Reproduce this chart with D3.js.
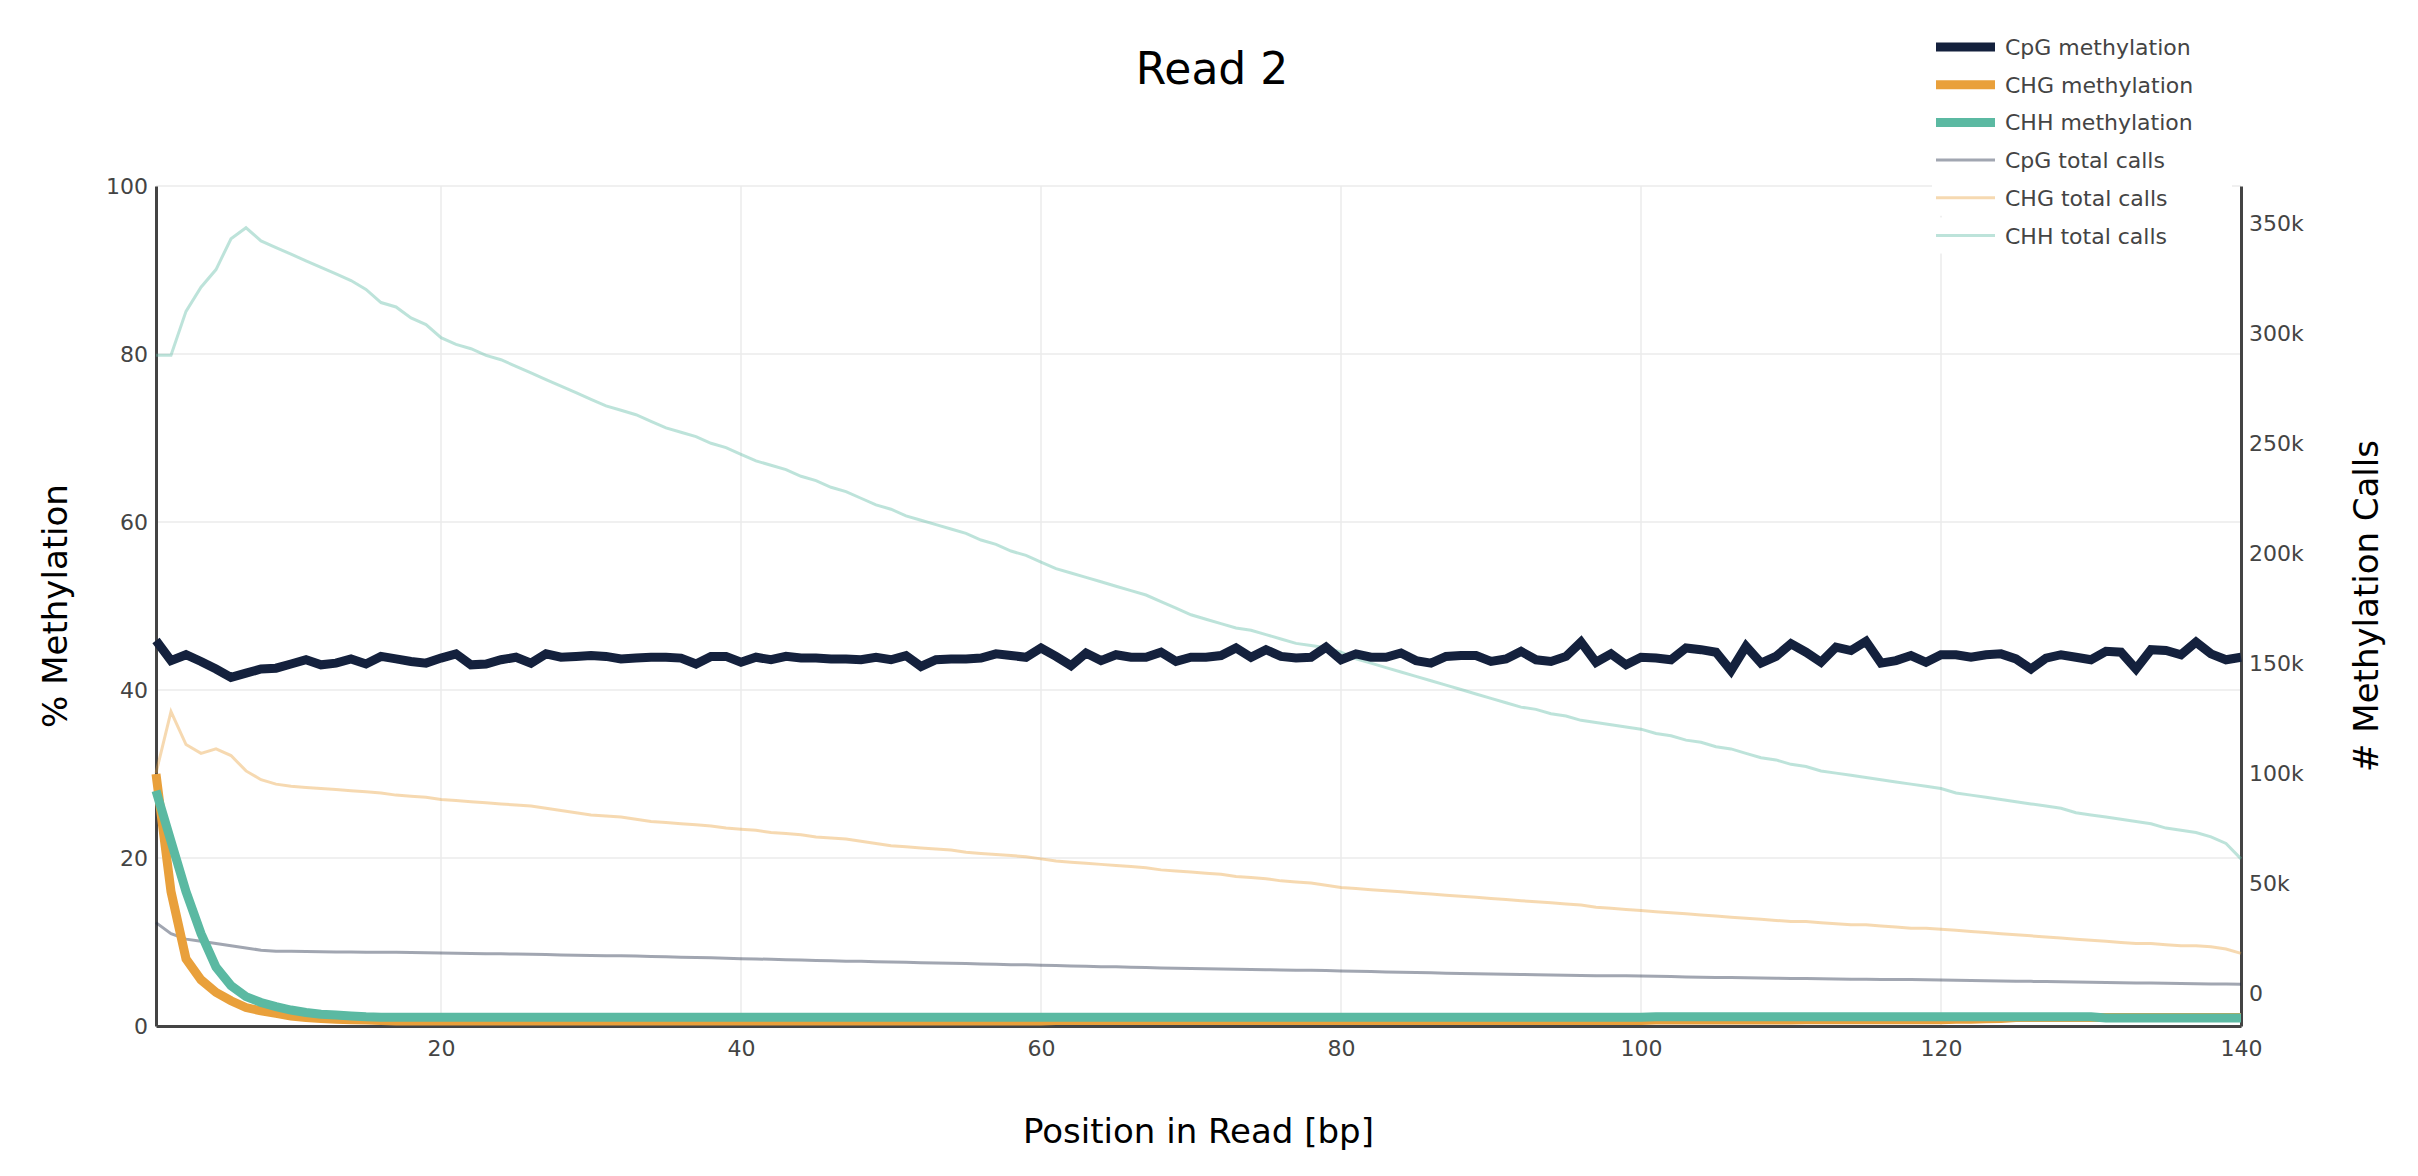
<!DOCTYPE html>
<html>
<head>
<meta charset="utf-8">
<script src="https://cdn.jsdelivr.net/npm/d3@7"></script>
<style>
body { margin: 0; background: #fff; font-family: "DejaVu Sans", sans-serif; }
</style>
</head>
<body>
<svg id="chart" width="2418" height="1176"></svg>
<script>
// positions 1..140 in the read
var positions = d3.range(1, 141);

var cpgMeth = [45.9,43.5,44.2,43.4,42.5,41.5,42,42.5,42.6,43.1,
  43.6,43.0,43.2,43.7,43.1,44.0,43.7,43.4,43.2,43.8,
  44.3,43.0,43.1,43.6,43.9,43.2,44.3,43.9,44.0,44.1,
  44.0,43.7,43.8,43.9,43.9,43.8,43.1,44.0,44.0,43.3,
  43.9,43.6,44.0,43.8,43.8,43.7,43.7,43.6,43.9,43.6,
  44.1,42.8,43.6,43.7,43.7,43.8,44.3,44.1,43.9,45.0,
  44.0,42.9,44.4,43.5,44.2,43.9,43.9,44.5,43.4,43.9,
  43.9,44.1,45.0,43.9,44.8,44.0,43.8,43.9,45.1,43.6,
  44.3,43.9,43.9,44.4,43.5,43.2,44.0,44.1,44.1,43.4,
  43.7,44.6,43.6,43.4,44.0,45.7,43.3,44.3,43.0,43.9,
  43.8,43.6,45.0,44.8,44.5,42.3,45.2,43.2,44.0,45.5,
  44.5,43.3,45.1,44.7,45.8,43.2,43.5,44.1,43.3,44.2,
  44.2,43.9,44.2,44.3,43.7,42.5,43.8,44.2,43.9,43.6,
  44.6,44.5,42.5,44.8,44.7,44.2,45.7,44.3,43.6,43.9];

var chgMeth = [30,16,8,5.5,4,3,2.2,1.8,1.5,1.2,
  1.0,0.9,0.8,0.75,0.7,0.65,0.6,0.6,0.6,0.6,
  0.6,0.6,0.6,0.6,0.6,0.6,0.6,0.6,0.6,0.6,
  0.6,0.6,0.6,0.6,0.6,0.6,0.6,0.6,0.6,0.6,
  0.6,0.6,0.6,0.6,0.6,0.6,0.6,0.6,0.6,0.6,
  0.6,0.6,0.6,0.6,0.6,0.6,0.6,0.6,0.6,0.6,
  0.65,0.65,0.65,0.65,0.65,0.65,0.65,0.65,0.65,0.65,
  0.65,0.65,0.65,0.65,0.65,0.65,0.65,0.65,0.65,0.65,
  0.65,0.65,0.65,0.65,0.65,0.65,0.65,0.65,0.65,0.65,
  0.65,0.65,0.65,0.65,0.65,0.65,0.65,0.65,0.65,0.65,
  0.7,0.7,0.7,0.7,0.7,0.7,0.7,0.7,0.7,0.7,
  0.75,0.75,0.75,0.75,0.75,0.75,0.75,0.75,0.75,0.75,
  0.8,0.8,0.85,0.9,1.0,1.0,1.0,1.0,1.0,1.0,
  1.0,1.0,1.0,1.0,1.0,1.0,1.0,1.0,1.0,1.0];

var chhMeth = [28,22,16,11,7,4.8,3.5,2.8,2.3,1.9,
  1.6,1.4,1.3,1.2,1.1,1.05,1.05,1.05,1.05,1.05,
  1.05,1.05,1.05,1.05,1.05,1.05,1.05,1.05,1.05,1.05,
  1.05,1.05,1.05,1.05,1.05,1.05,1.05,1.05,1.05,1.05,
  1.05,1.05,1.05,1.05,1.05,1.05,1.05,1.05,1.05,1.05,
  1.05,1.05,1.05,1.05,1.05,1.05,1.05,1.05,1.05,1.05,
  1.05,1.05,1.05,1.05,1.05,1.05,1.05,1.05,1.05,1.05,
  1.05,1.05,1.05,1.05,1.05,1.05,1.05,1.05,1.05,1.05,
  1.05,1.05,1.05,1.05,1.05,1.05,1.05,1.05,1.05,1.05,
  1.05,1.05,1.05,1.05,1.05,1.05,1.05,1.05,1.05,1.05,
  1.1,1.1,1.1,1.1,1.1,1.1,1.1,1.1,1.1,1.1,
  1.1,1.1,1.1,1.1,1.1,1.1,1.1,1.1,1.1,1.1,
  1.1,1.1,1.1,1.1,1.1,1.1,1.1,1.1,1.1,1.1,
  0.95,0.95,0.95,0.95,0.95,0.95,0.95,0.95,0.95,0.95];

// total calls, in thousands
var cpgCalls = [32,27,24.5,23.5,22.5,21.5,20.5,19.5,19,19,
  18.9,18.8,18.7,18.6,18.5,18.5,18.5,18.4,18.3,18.2,
  18.1,18,17.9,17.8,17.7,17.6,17.5,17.3,17.2,17.1,
  17,16.9,16.8,16.6,16.5,16.3,16.2,16,15.8,15.6,
  15.5,15.3,15.1,15,14.8,14.7,14.5,14.4,14.2,14.1,
  14,13.8,13.7,13.5,13.4,13.2,13.1,12.9,12.8,12.6,
  12.5,12.3,12.2,12,11.9,11.7,11.6,11.4,11.3,11.1,
  11,10.9,10.8,10.7,10.6,10.5,10.4,10.3,10.2,10,
  9.9,9.8,9.6,9.5,9.3,9.2,9.0,8.9,8.8,8.6,
  8.5,8.4,8.3,8.2,8.1,8.0,7.9,7.9,7.8,7.7,
  7.6,7.5,7.3,7.2,7.1,7.0,6.9,6.8,6.7,6.6,
  6.6,6.5,6.4,6.3,6.3,6.2,6.1,6.1,6.0,5.9,
  5.8,5.7,5.6,5.5,5.4,5.3,5.2,5.1,5.0,4.9,
  4.8,4.7,4.6,4.5,4.4,4.3,4.2,4.1,4.1,4.0];

var chgCalls = [100,128,113,109,111,108,101,97,95,94,
  93.5,93,92.5,92,91.5,91,90,89.5,89,88,
  87.5,87,86.5,86,85.5,85,84,83,82,81,
  80.5,80,79,78,77.5,77,76.5,76,75,74.5,
  74,73,72.5,72,71,70.5,70,69,68,67,
  66.5,66,65.5,65,64,63.5,63,62.5,62,61,
  60,59.5,59,58.5,58,57.5,57,56,55.5,55,
  54.5,54,53,52.5,52,51,50.5,50,49,48,
  47.5,47,46.5,46,45.5,45,44.5,44,43.5,43,
  42.5,42,41.5,41,40.5,40,39,38.5,38,37.5,
  37,36.5,36,35.5,35,34.5,34,33.5,33,32.5,
  32.5,32,31.5,31,31,30.5,30,29.5,29.5,29,
  28.5,28,27.5,27,26.5,26,25.5,25,24.5,24,
  23.5,23,22.5,22.5,22,21.5,21.5,21,20,18];

var chhCalls = [290,290,310,321,329,343,348,342,339,336,
  333,330,327,324,320,314,312,307,304,298,
  295,293,290,288,285,282,279,276,273,270,
  267,265,263,260,257,255,253,250,248,245,
  242,240,238,235,233,230,228,225,222,220,
  217,215,213,211,209,206,204,201,199,196,
  193,191,189,187,185,183,181,178,175,172,
  170,168,166,165,163,161,159,158,157,155,
  152,150,148,146,144,142,140,138,136,134,
  132,130,129,127,126,124,123,122,121,120,
  118,117,115,114,112,111,109,107,106,104,
  103,101,100,99,98,97,96,95,94,93,
  91,90,89,88,87,86,85,84,82,81,
  80,79,78,77,75,74,73,71,68,61];

var xTicks = [20, 40, 60, 80, 100, 120, 140];
var leftTicks = [0, 20, 40, 60, 80, 100];
var rightTicks = [0, 50, 100, 150, 200, 250, 300, 350];

var series = [
  {name: "CpG methylation", values: cpgMeth, axis: "left", color: "#14213d", width: 9, opacity: 1},
  {name: "CHG methylation", values: chgMeth, axis: "left", color: "#e9a03b", width: 9, opacity: 1},
  {name: "CHH methylation", values: chhMeth, axis: "left", color: "#5bb9a2", width: 9, opacity: 1},
  {name: "CpG total calls", values: cpgCalls, axis: "right", color: "#14213d", width: 3, opacity: 0.4},
  {name: "CHG total calls", values: chgCalls, axis: "right", color: "#e9a03b", width: 3, opacity: 0.4},
  {name: "CHH total calls", values: chhCalls, axis: "right", color: "#5bb9a2", width: 3, opacity: 0.4}
];

var svg = d3.select("#chart");
var plotLeft = 156, plotRight = 2241, plotTop = 186, plotBottom = 1026;

var x = d3.scaleLinear().domain([1, 140]).range([plotLeft, plotRight]);
var yL = d3.scaleLinear().domain([0, 100]).range([plotBottom, plotTop]);
var yR = d3.scaleLinear().domain([-15, 367]).range([plotBottom, plotTop]);

// gridlines
svg.append("g").selectAll("line").data(xTicks.slice(0, -1)).join("line")
  .attr("x1", d => x(d)).attr("x2", d => x(d))
  .attr("y1", plotTop).attr("y2", plotBottom)
  .attr("stroke", "#ebebeb").attr("stroke-width", 1.5);
svg.append("g").selectAll("line").data(leftTicks.slice(1)).join("line")
  .attr("x1", plotLeft).attr("x2", plotRight)
  .attr("y1", d => yL(d)).attr("y2", d => yL(d))
  .attr("stroke", "#ebebeb").attr("stroke-width", 1.5);

// axes
var tickFont = g => g.selectAll("text").attr("font-size", 22).attr("fill", "#444").attr("font-family", "DejaVu Sans");
var xAxis = svg.append("g").attr("transform", "translate(0," + plotBottom + ")")
  .call(d3.axisBottom(x).tickValues(xTicks).tickSize(0).tickPadding(14));
var lAxis = svg.append("g").attr("transform", "translate(" + plotLeft + ",0)")
  .call(d3.axisLeft(yL).tickValues(leftTicks).tickSize(0).tickPadding(8));
var rAxis = svg.append("g").attr("transform", "translate(" + plotRight + ",0)")
  .call(d3.axisRight(yR).tickValues(rightTicks).tickSize(0).tickPadding(8)
    .tickFormat(d => d === 0 ? "0" : d + "k"));
[xAxis, lAxis, rAxis].forEach(a => {
  a.call(tickFont);
  a.select(".domain").attr("stroke", "#444").attr("stroke-width", 3);
});

// lines (totals first so methylation lines sit on top)
var drawOrder = [3, 4, 5, 0, 1, 2];
drawOrder.forEach(function(i) {
  var s = series[i];
  var yS = s.axis === "left" ? yL : yR;
  var line = d3.line().x((d, j) => x(positions[j])).y(d => yS(d));
  svg.append("path").datum(s.values)
    .attr("d", line)
    .attr("fill", "none")
    .attr("stroke", s.color)
    .attr("stroke-opacity", s.opacity)
    .attr("stroke-width", s.width)
    .attr("stroke-linejoin", "miter");
});

// titles
svg.append("text").attr("x", 1212).attr("y", 84).attr("text-anchor", "middle")
  .attr("font-size", 44).attr("fill", "#000").text("Read 2");
svg.append("text").attr("x", (plotLeft + plotRight) / 2).attr("y", 1143).attr("text-anchor", "middle")
  .attr("font-size", 34).attr("fill", "#000").text("Position in Read [bp]");
svg.append("text").attr("transform", "translate(67," + (plotTop + plotBottom) / 2 + ") rotate(-90)")
  .attr("text-anchor", "middle").attr("font-size", 34).attr("fill", "#000").text("% Methylation");
svg.append("text").attr("transform", "translate(2378," + (plotTop + plotBottom) / 2 + ") rotate(-90)")
  .attr("text-anchor", "middle").attr("font-size", 34).attr("fill", "#000").text("# Methylation Calls");

// legend
var legend = svg.append("g").attr("transform", "translate(1936,47)");
var items = legend.selectAll("g").data(series).join("g")
  .attr("transform", (d, i) => "translate(0," + i * 37.7 + ")");
items.append("rect").attr("x", -4).attr("y", -18).attr("width", 300).attr("height", 36).attr("fill", "#fff");
items.append("line").attr("x1", 0).attr("x2", 59).attr("y1", 0).attr("y2", 0)
  .attr("stroke", d => d.color).attr("stroke-opacity", d => d.opacity)
  .attr("stroke-width", d => d.width);
items.append("text").attr("x", 69).attr("y", 8).attr("font-size", 22).attr("fill", "#444")
  .text(d => d.name);
</script>
</body>
</html>
